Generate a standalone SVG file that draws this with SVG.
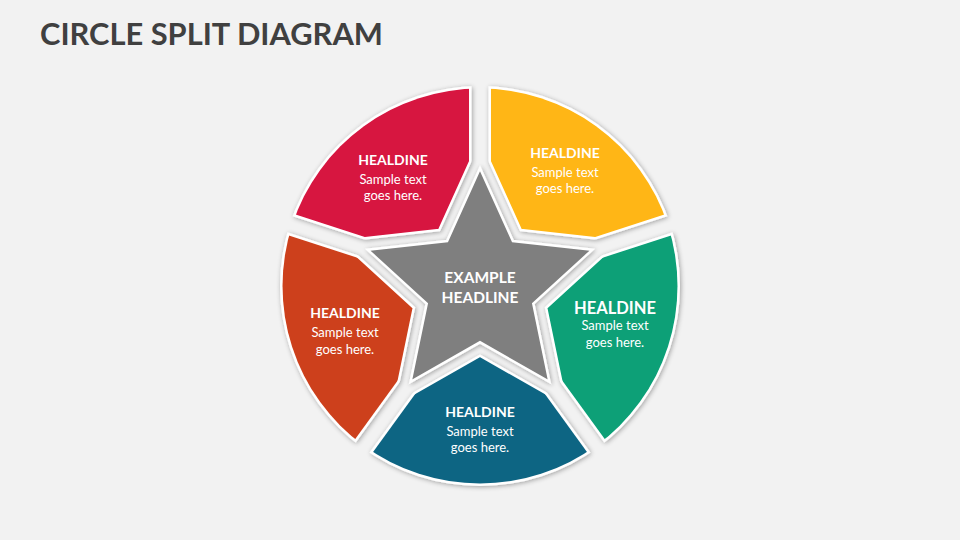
<svg xmlns="http://www.w3.org/2000/svg" width="960" height="540" viewBox="0 0 960 540">
<style>
.title{font-family:Lato,"Open Sans","Liberation Sans",sans-serif;font-weight:700;font-size:30px;fill:#404040}
.h{font-family:Lato,"Open Sans","Liberation Sans",sans-serif;font-weight:700;font-size:14px;fill:#fff;text-anchor:middle}
.t{font-family:Lato,"Open Sans","Liberation Sans",sans-serif;font-size:13px;fill:#fff;text-anchor:middle}
.c{font-family:Lato,"Open Sans","Liberation Sans",sans-serif;font-weight:700;font-size:15.5px;fill:#fff;text-anchor:middle}
</style>
<defs>
<filter id="sh" x="-20%" y="-20%" width="140%" height="140%">
<feGaussianBlur in="SourceAlpha" stdDeviation="2.5"/>
<feOffset dx="0.5" dy="1" result="b"/>
<feComponentTransfer><feFuncA type="linear" slope="0.35"/></feComponentTransfer>
<feMerge><feMergeNode/><feMergeNode in="SourceGraphic"/></feMerge>
</filter>
<polygon id="star" points="480,168.3 512.9,241 592.2,249.8 533.3,303.6 549.4,381.8 480,342.3 410.6,381.8 426.7,303.6 367.8,249.8 447.1,241"/>
<g id="rays">
<line x1="480" y1="286" x2="480" y2="40"/>
<line x1="480" y1="286" x2="717" y2="209"/>
<line x1="480" y1="286" x2="626" y2="487"/>
<line x1="480" y1="286" x2="334" y2="487"/>
<line x1="480" y1="286" x2="243" y2="209"/>
</g>
<mask id="mw" maskUnits="userSpaceOnUse" x="0" y="0" width="960" height="540">
<rect width="960" height="540" fill="#fff"/>
<use href="#star" fill="#000" stroke="#000" stroke-width="21" stroke-miterlimit="10"/>
<use href="#rays" stroke="#000" stroke-width="17"/>
</mask>
<mask id="mc" maskUnits="userSpaceOnUse" x="0" y="0" width="960" height="540">
<rect width="960" height="540" fill="#fff"/>
<use href="#star" fill="#000" stroke="#000" stroke-width="26" stroke-miterlimit="10"/>
<use href="#rays" stroke="#000" stroke-width="22"/>
</mask>
</defs>
<rect width="960" height="540" fill="#f2f2f2"/>
<text class="title" x="40" y="45" textLength="343" lengthAdjust="spacingAndGlyphs">CIRCLE SPLIT DIAGRAM</text>

<g id="seg-red" filter="url(#sh)">
<path d="M480,286 L289.8,224.2 A200,200 0 0 1 480,86 Z" fill="#fff" mask="url(#mw)"/>
<path d="M480,286 L292.2,225 A197.5,197.5 0 0 1 480,88.5 Z" fill="#d71440" mask="url(#mc)"/>
</g>
<g id="seg-yellow" filter="url(#sh)">
<path d="M480,286 L480,86 A200,200 0 0 1 670.2,224.2 Z" fill="#fff" mask="url(#mw)"/>
<path d="M480,286 L480,88.5 A197.5,197.5 0 0 1 667.8,225 Z" fill="#ffb612" mask="url(#mc)"/>
</g>
<g id="seg-green" filter="url(#sh)">
<path d="M480,286 L670.2,224.2 A200,200 0 0 1 597.6,447.8 Z" fill="#fff" mask="url(#mw)"/>
<path d="M480,286 L667.8,225 A197.5,197.5 0 0 1 596.1,445.8 Z" fill="#07a077" mask="url(#mc)"/>
</g>
<g id="seg-blue" filter="url(#sh)">
<path d="M480,286 L597.6,447.8 A200,200 0 0 1 362.4,447.8 Z" fill="#fff" mask="url(#mw)"/>
<path d="M480,286 L596.1,445.8 A197.5,197.5 0 0 1 363.9,445.8 Z" fill="#0f6583" mask="url(#mc)"/>
</g>
<g id="seg-orange" filter="url(#sh)">
<path d="M480,286 L362.4,447.8 A200,200 0 0 1 289.8,224.2 Z" fill="#fff" mask="url(#mw)"/>
<path d="M480,286 L363.9,445.8 A197.5,197.5 0 0 1 292.2,225 Z" fill="#cd411b" mask="url(#mc)"/>
</g>
<g id="star-node">
<use href="#star" fill="#7f7f7f" stroke="#fff" stroke-width="2.5" stroke-miterlimit="10" filter="url(#sh)"/>
<text class="c" x="480" y="283">EXAMPLE</text>
<text class="c" x="480" y="303">HEADLINE</text>
</g>

<g id="label-red">
<text class="h" x="393" y="165">HEALDINE</text>
<text class="t" x="393" y="184">Sample text</text>
<text class="t" x="393" y="200">goes here.</text>
</g>
<g id="label-yellow">
<text class="h" x="565" y="158">HEALDINE</text>
<text class="t" x="565" y="177">Sample text</text>
<text class="t" x="565" y="193">goes here.</text>
</g>
<g id="label-green">
<text class="h" x="615" y="314" style="font-size:16.5px">HEALDINE</text>
<text class="t" x="615" y="330">Sample text</text>
<text class="t" x="615" y="347">goes here.</text>
</g>
<g id="label-blue">
<text class="h" x="480" y="417">HEALDINE</text>
<text class="t" x="480" y="436">Sample text</text>
<text class="t" x="480" y="452">goes here.</text>
</g>
<g id="label-orange">
<text class="h" x="345" y="318">HEALDINE</text>
<text class="t" x="345" y="337">Sample text</text>
<text class="t" x="345" y="354">goes here.</text>
</g>
</svg>
